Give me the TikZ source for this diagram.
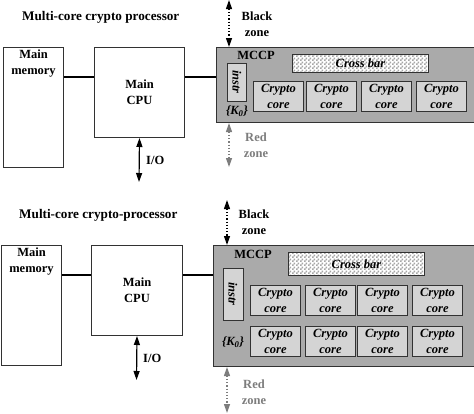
\documentclass[tikz,border=0pt]{standalone}
\usepackage{fontspec}
\setmainfont{Liberation Serif}
\usetikzlibrary{arrows.meta,patterns}

\definecolor{mccpgray}{RGB}{170,170,170}
\definecolor{coregray}{RGB}{212,212,212}
\definecolor{zonegray}{RGB}{125,125,125}
\definecolor{edgegray}{RGB}{50,50,50}

\newcommand{\diagfont}{\fontsize{12.5}{16}\selectfont\bfseries}
\newcommand{\titlefont}{\fontsize{13.2}{16}\selectfont\bfseries}

% fine checkerboard for the cross bar
\pgfdeclarepatternformonly{finechecker}{\pgfpointorigin}{\pgfqpoint{4pt}{4pt}}{\pgfqpoint{4pt}{4pt}}{
  \pgfpathrectangle{\pgfpointorigin}{\pgfqpoint{2pt}{2pt}}
  \pgfpathrectangle{\pgfqpoint{2pt}{2pt}}{\pgfqpoint{2pt}{2pt}}
  \pgfusepath{fill}}

\tikzset{
  box/.style={draw=edgegray, line width=1pt, fill=white, inner sep=2pt, font=\diagfont, align=center},
  mccp/.style={draw=edgegray, line width=1pt, fill=mccpgray},
  core/.style={draw=edgegray, line width=1pt, fill=coregray, minimum width=50, minimum height=30, inner sep=0pt, font=\diagfont\itshape, align=center},
  inst/.style={draw=edgegray, line width=1pt, fill=coregray, inner sep=0pt, font=\diagfont\itshape},
  xbar/.style={draw=edgegray, line width=1pt, preaction={fill=white}, pattern=finechecker, pattern color=gray!70, minimum width=136, inner sep=0pt, font=\diagfont\itshape},
  bus/.style={line width=2pt},
  io/.style={line width=1.2pt, {Triangle[length=9pt,width=6pt]}-{Triangle[length=9pt,width=6pt]}},
  zone/.style={dotted, line width=1.2pt, {Triangle[length=9pt,width=6pt]}-{Triangle[length=9pt,width=6pt]}},
  lbl/.style={font=\diagfont, align=center, inner sep=0pt},
}

\begin{document}
\begin{tikzpicture}[x=1pt, y=-1pt]
\useasboundingbox (0,0) rectangle (474,413);
\clip (0,0) rectangle (474,413);

% Upper picture: one row of crypto cores
\node[lbl, font=\titlefont, anchor=west] (t1) at (22,17) {Multi-core crypto processor};
\node[box, anchor=north west, minimum width=60, minimum height=120,
      label={[lbl, anchor=north, yshift=-3pt]north:Main\\memory}] (mem1) at (3,47) {};
\node[box, anchor=north west, minimum width=90, minimum height=90] (cpu1) at (94,47) {Main\\CPU};
\node[mccp, anchor=north west, minimum width=280, minimum height=75] (mccp1) at (216,47) {};
\node[lbl] (ml1) at (256,55) {MCCP};
\node[xbar, anchor=north west, minimum height=18] (xb1) at (292,54) {Cross bar};
\node[inst, rotate=-90, minimum width=38, minimum height=19] (in1) at (237,82) {instr};
\node[lbl, font=\diagfont\itshape] (k1) at (237,111) {\{K\textsubscript{0}\}};
\foreach \i/\x in {1/253,2/306,3/361,4/416}
    \node[core, anchor=north west] (ca\i) at (\x,81) {Crypto\\core};

% connections, upper
\path ([yshift=-30pt]mem1.north east) coordinate (m1);
\path ([yshift=-30pt]cpu1.north east) coordinate (p1);
\draw[bus] (m1) -- (m1 -| cpu1.west);
\draw[bus] (p1) -- (p1 -| mccp1.west);
\coordinate (io1) at (139,182);
\draw[io] (cpu1.south) -- (io1);
\node[lbl, anchor=west] (iol1) at (146,160) {I/O};
\coordinate (bz1) at (229,0);
\draw[zone] (bz1) -- (bz1 |- mccp1.north);
\node[lbl] (bzl1) at (257,24) {Black\\zone};
\coordinate (rz1) at (229,167);
\draw[zone, zonegray] (rz1 |- mccp1.south) -- (rz1);
\node[lbl, text=zonegray] (rzl1) at (256,145) {Red\\zone};

% Lower picture: two rows of crypto cores
\node[lbl, font=\titlefont, anchor=west] (t2) at (19,215) {Multi-core crypto-processor};
\node[box, anchor=north west, minimum width=60, minimum height=120,
      label={[lbl, anchor=north, yshift=-3pt]north:Main\\memory}] (mem2) at (1,245) {};
\node[box, anchor=north west, minimum width=91, minimum height=90] (cpu2) at (91,245) {Main\\CPU};
\node[mccp, anchor=north west, minimum width=280, minimum height=121] (mccp2) at (213,245) {};
\node[lbl] (ml2) at (253,254) {MCCP};
\node[xbar, anchor=north west, minimum height=23] (xb2) at (288,252) {Cross bar};
\node[inst, rotate=-90, minimum width=52, minimum height=20] (in2) at (233,294) {instr};
\node[lbl, font=\diagfont\itshape] (k2) at (233,342) {\{K\textsubscript{0}\}};
\foreach \i/\x in {1/250,2/305,3/357,4/412} {
    \node[core, anchor=north west] (cb\i) at (\x,285) {Crypto\\core};
    \node[core, anchor=north west] (cc\i) at (\x,326) {Crypto\\core};
}

% connections, lower
\path ([yshift=-30pt]mem2.north east) coordinate (m2);
\path ([yshift=-30pt]cpu2.north east) coordinate (p2);
\draw[bus] (m2) -- (m2 -| cpu2.west);
\draw[bus] (p2) -- (p2 -| mccp2.west);
\coordinate (io2) at (136.5,380);
\draw[io] (cpu2.south) -- (io2);
\node[lbl, anchor=west] (iol2) at (143,358) {I/O};
\coordinate (bz2) at (227,200);
\draw[zone] (bz2) -- (bz2 |- mccp2.north);
\node[lbl] (bzl2) at (254,222.5) {Black\\zone};
\coordinate (rz2) at (227,413);
\draw[zone, zonegray] (rz2 |- mccp2.south) -- (rz2);
\node[lbl, text=zonegray] (rzl2) at (254,392) {Red\\zone};
\end{tikzpicture}
\end{document}
